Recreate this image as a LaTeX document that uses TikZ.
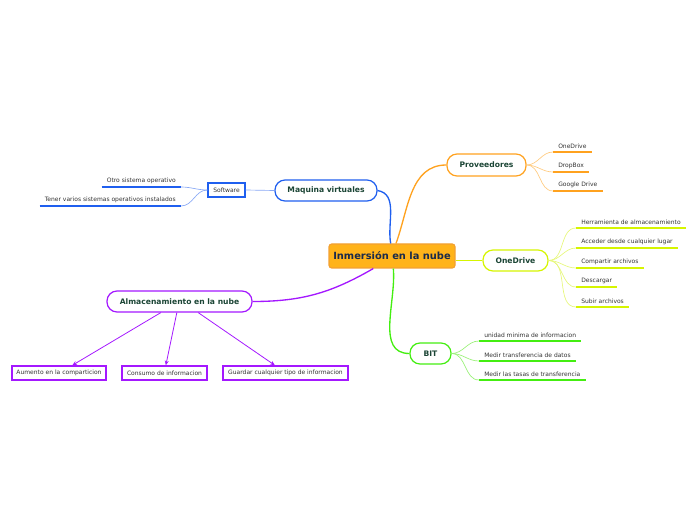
\documentclass[tikz,border=0pt]{standalone}
\usepackage{fontspec}
\setmainfont{DejaVu Sans}
\usetikzlibrary{arrows.meta}

\definecolor{mainfill}{HTML}{FFB31A}
\definecolor{maindraw}{HTML}{F2A033}
\definecolor{orangeb}{HTML}{FFA21F}
\definecolor{orangel}{HTML}{FFCB80}
\definecolor{limeb}{HTML}{D6F500}
\definecolor{limel}{HTML}{E6F77A}
\definecolor{greenb}{HTML}{44EE11}
\definecolor{greenl}{HTML}{99F077}
\definecolor{blueb}{HTML}{1F5FEF}
\definecolor{bluel}{HTML}{88A8F5}
\definecolor{purpleb}{HTML}{A418FF}
\definecolor{topictext}{HTML}{1B4535}
\definecolor{leaftext}{HTML}{333333}
\definecolor{maintext}{HTML}{1A2A4A}

\begin{document}
\begin{tikzpicture}[x=0.75pt,y=-0.75pt,
	topic/.style={draw=#1, line width=0.9pt, rounded corners=7.5pt, fill=white,
		font=\fontsize{5.7}{6.5}\selectfont\bfseries, text=topictext, inner sep=0pt},
	boxed/.style={draw=#1, line width=1.1pt, fill=white,
		font=\fontsize{4.5}{5}\selectfont, text=leaftext, inner sep=0pt},
	leaf/.style={inner xsep=3.75pt, inner ysep=2.3pt, font=\fontsize{4.5}{5}\selectfont, text=leaftext},
	uline/.style={draw=#1, line width=1.3pt},
	twig/.style={draw=#1, line width=0.5pt},
	branch/.style={draw=#1, line width=1pt},
	pointer/.style={draw=purpleb, line width=0.6pt, -{Stealth[length=3.5pt,width=3pt]}}]
	\useasboundingbox (0,0) rectangle (696,520);

	% central topic
	\node[draw=maindraw, fill=mainfill, line width=0.8pt, rounded corners=2pt, minimum width=94.5pt, minimum height=18pt,
		font=\fontsize{7.4}{8.5}\selectfont\bfseries, text=maintext, inner sep=0pt] (inm) at (392,256) {Inmersión en la nube};

	% main topics
	\node[topic=orangeb, minimum width=59.25pt, minimum height=16.5pt] (prov) at (486.5,165) {Proveedores};
	\node[topic=limeb, minimum width=48.75pt, minimum height=15.75pt] (od) at (515.5,260.5) {OneDrive};
	\node[topic=greenb, minimum width=30.75pt, minimum height=15.75pt] (bit) at (430.5,353.5) {BIT};
	\node[topic=blueb, minimum width=76.5pt, minimum height=15.75pt] (maq) at (326,190.5) {Maquina virtuales};
	\node[topic=purpleb, minimum width=108.75pt, minimum height=15.75pt] (alm) at (179.5,301.5) {Almacenamiento en la nube};
	\node[boxed=blueb, minimum width=27.75pt, minimum height=10.5pt] (soft) at (226.5,190) {Software};

	% boxes under Almacenamiento
	\node[boxed=purpleb, minimum width=70.5pt, minimum height=10.5pt] (aum) at (59,373) {Aumento en la comparticion};
	\node[boxed=purpleb, minimum width=63.75pt, minimum height=10.5pt] (cons) at (164.5,373) {Consumo de informacion};
	\node[boxed=purpleb, minimum width=93.75pt, minimum height=10.5pt] (guar) at (285.5,373) {Guardar cualquier tipo de informacion};

	% leaves
	\node[leaf, anchor=south west] (p1) at (553,152) {OneDrive};
	\node[leaf, anchor=south west] (p2) at (553,172) {DropBox};
	\node[leaf, anchor=south west] (p3) at (553,191) {Google Drive};
	\node[leaf, anchor=south west] (o1) at (576,228) {Herramienta de almacenamiento};
	\node[leaf, anchor=south west] (o2) at (576,248) {Acceder desde cualquier lugar};
	\node[leaf, anchor=south west] (o3) at (576,268) {Compartir archivos};
	\node[leaf, anchor=south west] (o4) at (576,287) {Descargar};
	\node[leaf, anchor=south west] (o5) at (576,307) {Subir archivos};
	\node[leaf, anchor=south west] (b1) at (479,341) {unidad minima de informacion};
	\node[leaf, anchor=south west] (b2) at (479,361) {Medir transferencia de datos};
	\node[leaf, anchor=south west] (b3) at (479,380) {Medir las tasas de transferencia};
	\node[leaf, anchor=south east] (s1) at (181,187) {Otro sistema operativo};
	\node[leaf, anchor=south east] (s2) at (181,206) {Tener varios sistemas operativos instalados};

	% underlines
	\foreach \l in {p1,p2,p3} \draw[uline=orangeb] (\l.south west) -- (\l.south east);
	\foreach \l in {o1,o2,o3,o4,o5} \draw[uline=limeb] (\l.south west) -- (\l.south east);
	\foreach \l in {b1,b2,b3} \draw[uline=greenb] (\l.south west) -- (\l.south east);
	\foreach \l in {s1,s2} \draw[uline=blueb] (\l.south west) -- (\l.south east);

	% branches from the centre
	\draw[branch=orangeb] ([xshift=3pt]inm.north) to[out=70,in=180] (prov.west);
	\draw[branch=blueb] ([xshift=-1pt]inm.north) to[out=100,in=-10] (maq.east);
	\draw[branch=limeb] (inm.east |- od.west) -- (od.west);
	\draw[branch=greenb] ([xshift=1pt]inm.south) to[out=-85,in=180] (bit.west);
	\draw[branch=purpleb] ([xshift=-14pt]inm.south) to[out=-150,in=0] (alm.east);
	\draw[twig=bluel] (maq.west) -- (soft.east);

	% twigs to leaves
	\foreach \l in {p1,p2,p3} \draw[twig=orangel] (prov.east) to[out=0,in=180] (\l.south west);
	\foreach \l in {o1,o2,o3,o4,o5} \draw[twig=limel] (od.east) to[out=0,in=180] (\l.south west);
	\foreach \l in {b1,b2,b3} \draw[twig=greenl] (bit.east) to[out=0,in=180] (\l.south west);
	\foreach \l in {s1,s2} \draw[twig=bluel] (soft.west) to[out=180,in=0] (\l.south east);

	% arrows
	\draw[pointer] ([xshift=-14pt]alm.south) -- ([xshift=10pt]aum.north);
	\draw[pointer] ([xshift=-2pt]alm.south) -- ([xshift=1pt]cons.north);
	\draw[pointer] ([xshift=14pt]alm.south) -- ([xshift=-8pt]guar.north);
\end{tikzpicture}
\end{document}
